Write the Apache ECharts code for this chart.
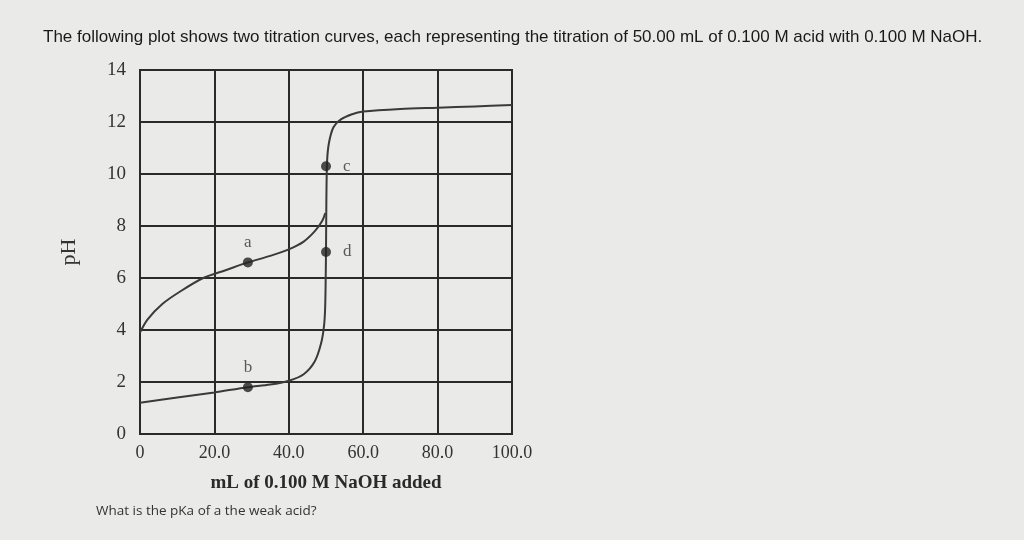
<!DOCTYPE html>
<html lang="en">
<head>
    <meta charset="UTF-8">
    <title>Titration curves</title>
    <style>
        html, body { margin: 0; padding: 0; background: #eaeae8; }
        #chart { width: 1024px; height: 540px; }
    </style>
</head>
<script src="https://cdn.jsdelivr.net/npm/echarts@6.0.0/dist/echarts.min.js"></script>
<body>
<div id="chart"></div>
</body>
<script>
    // values (mL NaOH, pH)
    var strongVol = [0, 10, 20, 29, 35, 40, 44, 47, 48.7, 49.5, 49.8, 50, 50.1, 50.3, 50.8, 52, 54, 57, 60, 70, 80, 90, 100];
    var strongPH  = [1.2, 1.4, 1.6, 1.8, 1.9, 2.05, 2.3, 2.8, 3.5, 4.2, 5, 7, 9, 10.5, 11.2, 11.8, 12.1, 12.3, 12.4, 12.5, 12.55, 12.6, 12.65];
    var weakVol = [0, 2, 6, 11, 17, 23, 29, 35, 40, 44, 47, 49, 49.8];
    var weakPH  = [3.9, 4.4, 5.0, 5.5, 6.0, 6.3, 6.6, 6.85, 7.1, 7.4, 7.8, 8.2, 8.5];
    var pointNames = ['a', 'b', 'c', 'd'];
    var pointVol = [29, 29, 50, 50];
    var pointPH = [6.6, 1.8, 10.3, 7.0];
    var xTickLabels = ['0', '20.0', '40.0', '60.0', '80.0', '100.0'];
    var yTickLabels = ['0', '2', '4', '6', '8', '10', '12', '14'];

    function pairs(xs, ys) {
        var out = [];
        for (var i = 0; i < xs.length; i++) out.push([xs[i], ys[i]]);
        return out;
    }

    var points = [];
    for (var i = 0; i < pointNames.length; i++) {
        var up = pointNames[i] == 'a' || pointNames[i] == 'b';
        points.push({
            value: [pointVol[i], pointPH[i]],
            label: {
                show: true,
                formatter: pointNames[i],
                position: up ? 'top' : 'right',
                distance: up ? 6 : 12
            }
        });
    }

    var myChart = echarts.init(document.getElementById('chart'));
    var serif = '"Liberation Serif", "DejaVu Serif", serif';
    myChart.setOption({
        backgroundColor: '#eaeae8',
        animation: false,
        title: {
            text: 'The following plot shows two titration curves, each representing the titration of 50.00 mL of 0.100 M acid with 0.100 M NaOH.',
            left: 38,
            top: 24,
            textStyle: { fontFamily: '"Liberation Sans", Arial, sans-serif', fontSize: 17, fontWeight: 'normal', color: '#1a1a1a' }
        },
        graphic: [{
            type: 'text',
            left: 96,
            top: 504,
            style: { text: 'What is the pKa of a the weak acid?', font: '13.5px "Open Sans", sans-serif', fill: '#333' }
        }],
        grid: {
            left: 140, right: 512, top: 70, bottom: 106,
            show: true, borderColor: '#2a2a2a', borderWidth: 2
        },
        xAxis: {
            type: 'value', min: 0, max: 100, interval: 20,
            name: 'mL of 0.100 M NaOH added',
            nameLocation: 'middle',
            nameGap: 40,
            nameTextStyle: { fontFamily: serif, fontSize: 19, fontWeight: 'bold', color: '#2a2a2a' },
            axisLine: { lineStyle: { color: '#2a2a2a', width: 2 } },
            axisTick: { show: false },
            axisLabel: {
                fontFamily: serif, fontSize: 18, color: '#333', margin: 10,
                formatter: function (v) { return xTickLabels[v / 20]; }
            },
            splitLine: { show: true, lineStyle: { color: '#2a2a2a', width: 2 } }
        },
        yAxis: {
            type: 'value', min: 0, max: 14, interval: 2,
            name: 'pH',
            nameLocation: 'middle',
            nameGap: 60,
            nameRotate: 90,
            nameTextStyle: { fontFamily: serif, fontSize: 22, color: '#333' },
            axisLine: { lineStyle: { color: '#2a2a2a', width: 2 } },
            axisTick: { show: false },
            axisLabel: {
                fontFamily: serif, fontSize: 19, color: '#333', margin: 14,
                formatter: function (v) { return yTickLabels[v / 2]; }
            },
            splitLine: { show: true, lineStyle: { color: '#2a2a2a', width: 2 } }
        },
        series: [{
            type: 'line',
            data: pairs(strongVol, strongPH),
            smooth: 0.3,
            showSymbol: false,
            lineStyle: { color: '#3a3a3a', width: 2 }
        }, {
            type: 'line',
            data: pairs(weakVol, weakPH),
            smooth: 0.3,
            showSymbol: false,
            lineStyle: { color: '#3a3a3a', width: 2 }
        }, {
            type: 'scatter',
            data: points,
            symbolSize: 10,
            itemStyle: { color: '#222' },
            label: { fontFamily: serif, fontSize: 17, color: '#333' },
            z: 5
        }]
    });
</script>
</html>
